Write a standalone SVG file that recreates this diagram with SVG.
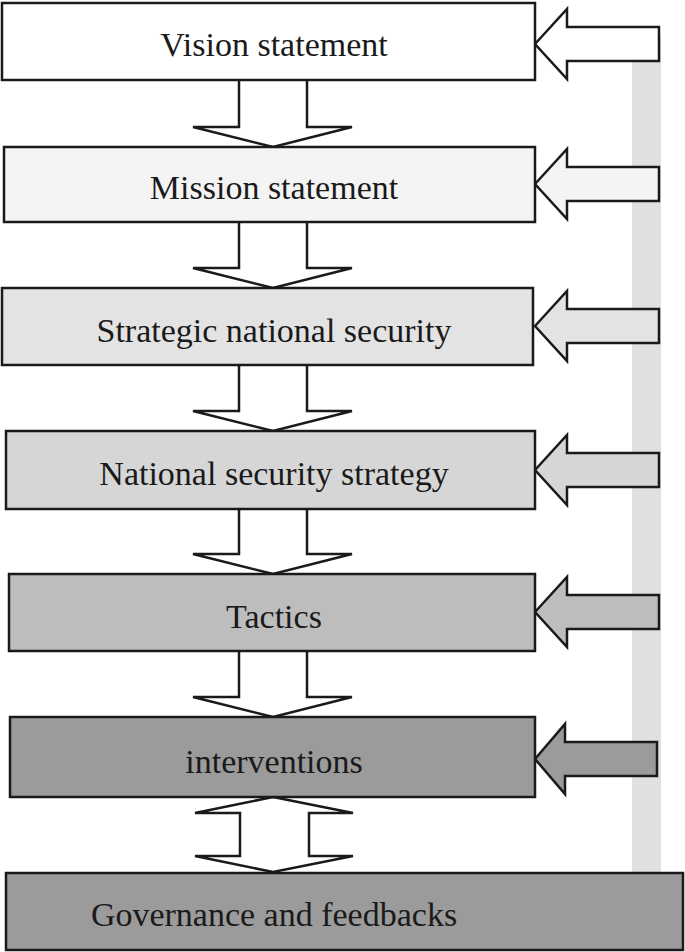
<svg xmlns="http://www.w3.org/2000/svg" width="685" height="952" viewBox="0 0 685 952">
<style>
.box{stroke:#1a1a1a;stroke-width:2.5}
.arr{stroke:#1a1a1a;stroke-width:2.5;stroke-linejoin:miter}
.dn{fill:#ffffff;stroke:#1a1a1a;stroke-width:2.5;stroke-linejoin:miter}
text{font-family:"Liberation Serif","Times New Roman",serif;font-size:34px;fill:#1a1a1a;text-anchor:middle}
</style>
<rect x="0" y="0" width="685" height="952" fill="#ffffff"/>
<rect id="feedback-bar" x="632" y="37" width="29" height="836" fill="#e0e0e0"/>
<g id="connectors">
<path class="dn" d="M239,80 V127 H193 L273,147 L352,127 H307 V80"/>
<path class="dn" d="M239,222 V268 H193 L273,288 L352,268 H307 V222"/>
<path class="dn" d="M239,365 V411 H193 L273,431 L352,411 H307 V365"/>
<path class="dn" d="M239,509 V554 H193 L273,574 L352,554 H307 V509"/>
<path class="dn" d="M239,651 V697 H193 L273,717 L352,697 H307 V651"/>
<path class="dn" d="M273,797 L353,813 H309 V856 H353 L273,872 L195,856 H240 V813 H195 Z"/>
<path class="arr" fill="#ffffff" d="M535,44 L567,9 V27 H659 V61 H567 V79 Z"/>
<path class="arr" fill="#f4f4f4" d="M535,184 L567,149 V167 H659 V201 H567 V219 Z"/>
<path class="arr" fill="#e3e3e3" d="M535,326 L567,291 V309 H659 V343 H567 V361 Z"/>
<path class="arr" fill="#d6d6d6" d="M535,470 L567,435 V453 H659 V487 H567 V505 Z"/>
<path class="arr" fill="#bdbdbd" d="M535,612 L567,577 V595 H659 V629 H567 V647 Z"/>
<path class="arr" fill="#9b9b9b" d="M535,759 L565,724 V742 H657 V776 H565 V794 Z"/>
</g>
<g id="vision"><rect class="box" x="2" y="3" width="533" height="77" fill="#ffffff"/><text x="274" y="56">Vision statement</text></g>
<g id="mission"><rect class="box" x="4" y="147" width="531" height="75" fill="#f4f4f4"/><text x="274" y="199">Mission statement</text></g>
<g id="strategic"><rect class="box" x="2" y="288" width="531" height="77" fill="#e3e3e3"/><text x="274" y="342">Strategic national security</text></g>
<g id="nss"><rect class="box" x="6" y="431" width="529" height="78" fill="#d6d6d6"/><text x="274" y="485">National security strategy</text></g>
<g id="tactics"><rect class="box" x="9" y="574" width="526" height="77" fill="#bdbdbd"/><text x="274" y="628">Tactics</text></g>
<g id="interventions"><rect class="box" x="10" y="717" width="525" height="80" fill="#9b9b9b"/><text x="274" y="773">interventions</text></g>
<g id="governance"><rect class="box" x="6" y="873" width="677" height="77" fill="#9b9b9b"/><text x="274" y="926">Governance and feedbacks</text></g>
</svg>
